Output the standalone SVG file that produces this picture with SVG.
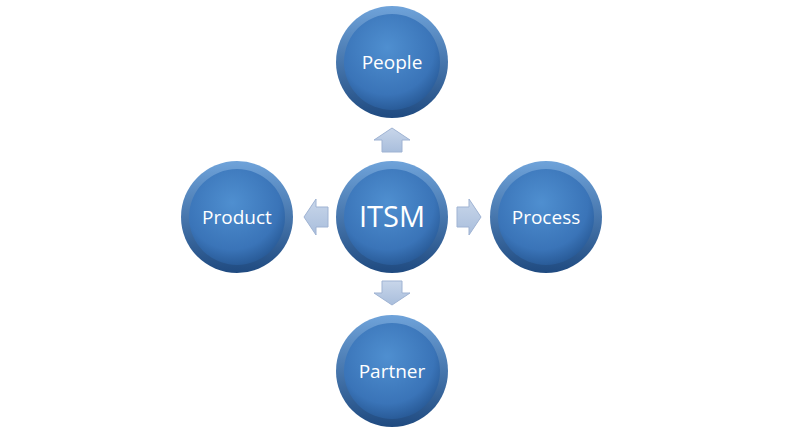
<svg xmlns="http://www.w3.org/2000/svg" width="785" height="440" viewBox="0 0 785 440">
<defs>
<radialGradient id="g" cx="0.45" cy="0.35" r="0.7">
<stop offset="0" stop-color="#4f8fd0"/><stop offset="0.7" stop-color="#3a74b8"/><stop offset="1" stop-color="#24548f"/>
</radialGradient>
<linearGradient id="rim" x1="0" y1="0" x2="0" y2="1">
<stop offset="0" stop-color="#6fa3da"/><stop offset="1" stop-color="#1f4a80"/>
</linearGradient>
<linearGradient id="ar" x1="0" y1="0" x2="0" y2="1">
<stop offset="0" stop-color="#c8d6ea"/><stop offset="1" stop-color="#a9bedc"/>
</linearGradient>
</defs>
<style>
.o{fill:url(#rim)}
.i{fill:url(#g)}
.t{font-family:"Open Sans","Liberation Sans",sans-serif;fill:#fff;text-anchor:middle;font-size:19px}
.a{fill:url(#ar);stroke:#9fb3d3;stroke-width:1}
</style>
<rect width="785" height="440" fill="#fff"/>
<g id="connectors">
<path class="a" d="M392,128 L410,140 L402,140 L402,152 L382,152 L382,140 L374,140 Z"/>
<path class="a" d="M392,305 L410,293 L402,293 L402,281 L382,281 L382,293 L374,293 Z"/>
<path class="a" d="M304,217 L316,199 L316,207 L328,207 L328,227 L316,227 L316,235 Z"/>
<path class="a" d="M481,217 L469,199 L469,207 L457,207 L457,227 L469,227 L469,235 Z"/>
</g>
<g id="people"><circle class="o" cx="392" cy="62" r="56"/><circle class="i" cx="392" cy="62" r="48"/><text class="t" x="392" y="69">People</text></g>
<g id="itsm"><circle class="o" cx="392" cy="217" r="56"/><circle class="i" cx="392" cy="217" r="48"/><text class="t" x="392" y="227" style="font-size:29px">ITSM</text></g>
<g id="product"><circle class="o" cx="237" cy="217" r="56"/><circle class="i" cx="237" cy="217" r="48"/><text class="t" x="237" y="224">Product</text></g>
<g id="process"><circle class="o" cx="546" cy="217" r="56"/><circle class="i" cx="546" cy="217" r="48"/><text class="t" x="546" y="224">Process</text></g>
<g id="partner"><circle class="o" cx="392" cy="371" r="56"/><circle class="i" cx="392" cy="371" r="48"/><text class="t" x="392" y="378">Partner</text></g>
</svg>
